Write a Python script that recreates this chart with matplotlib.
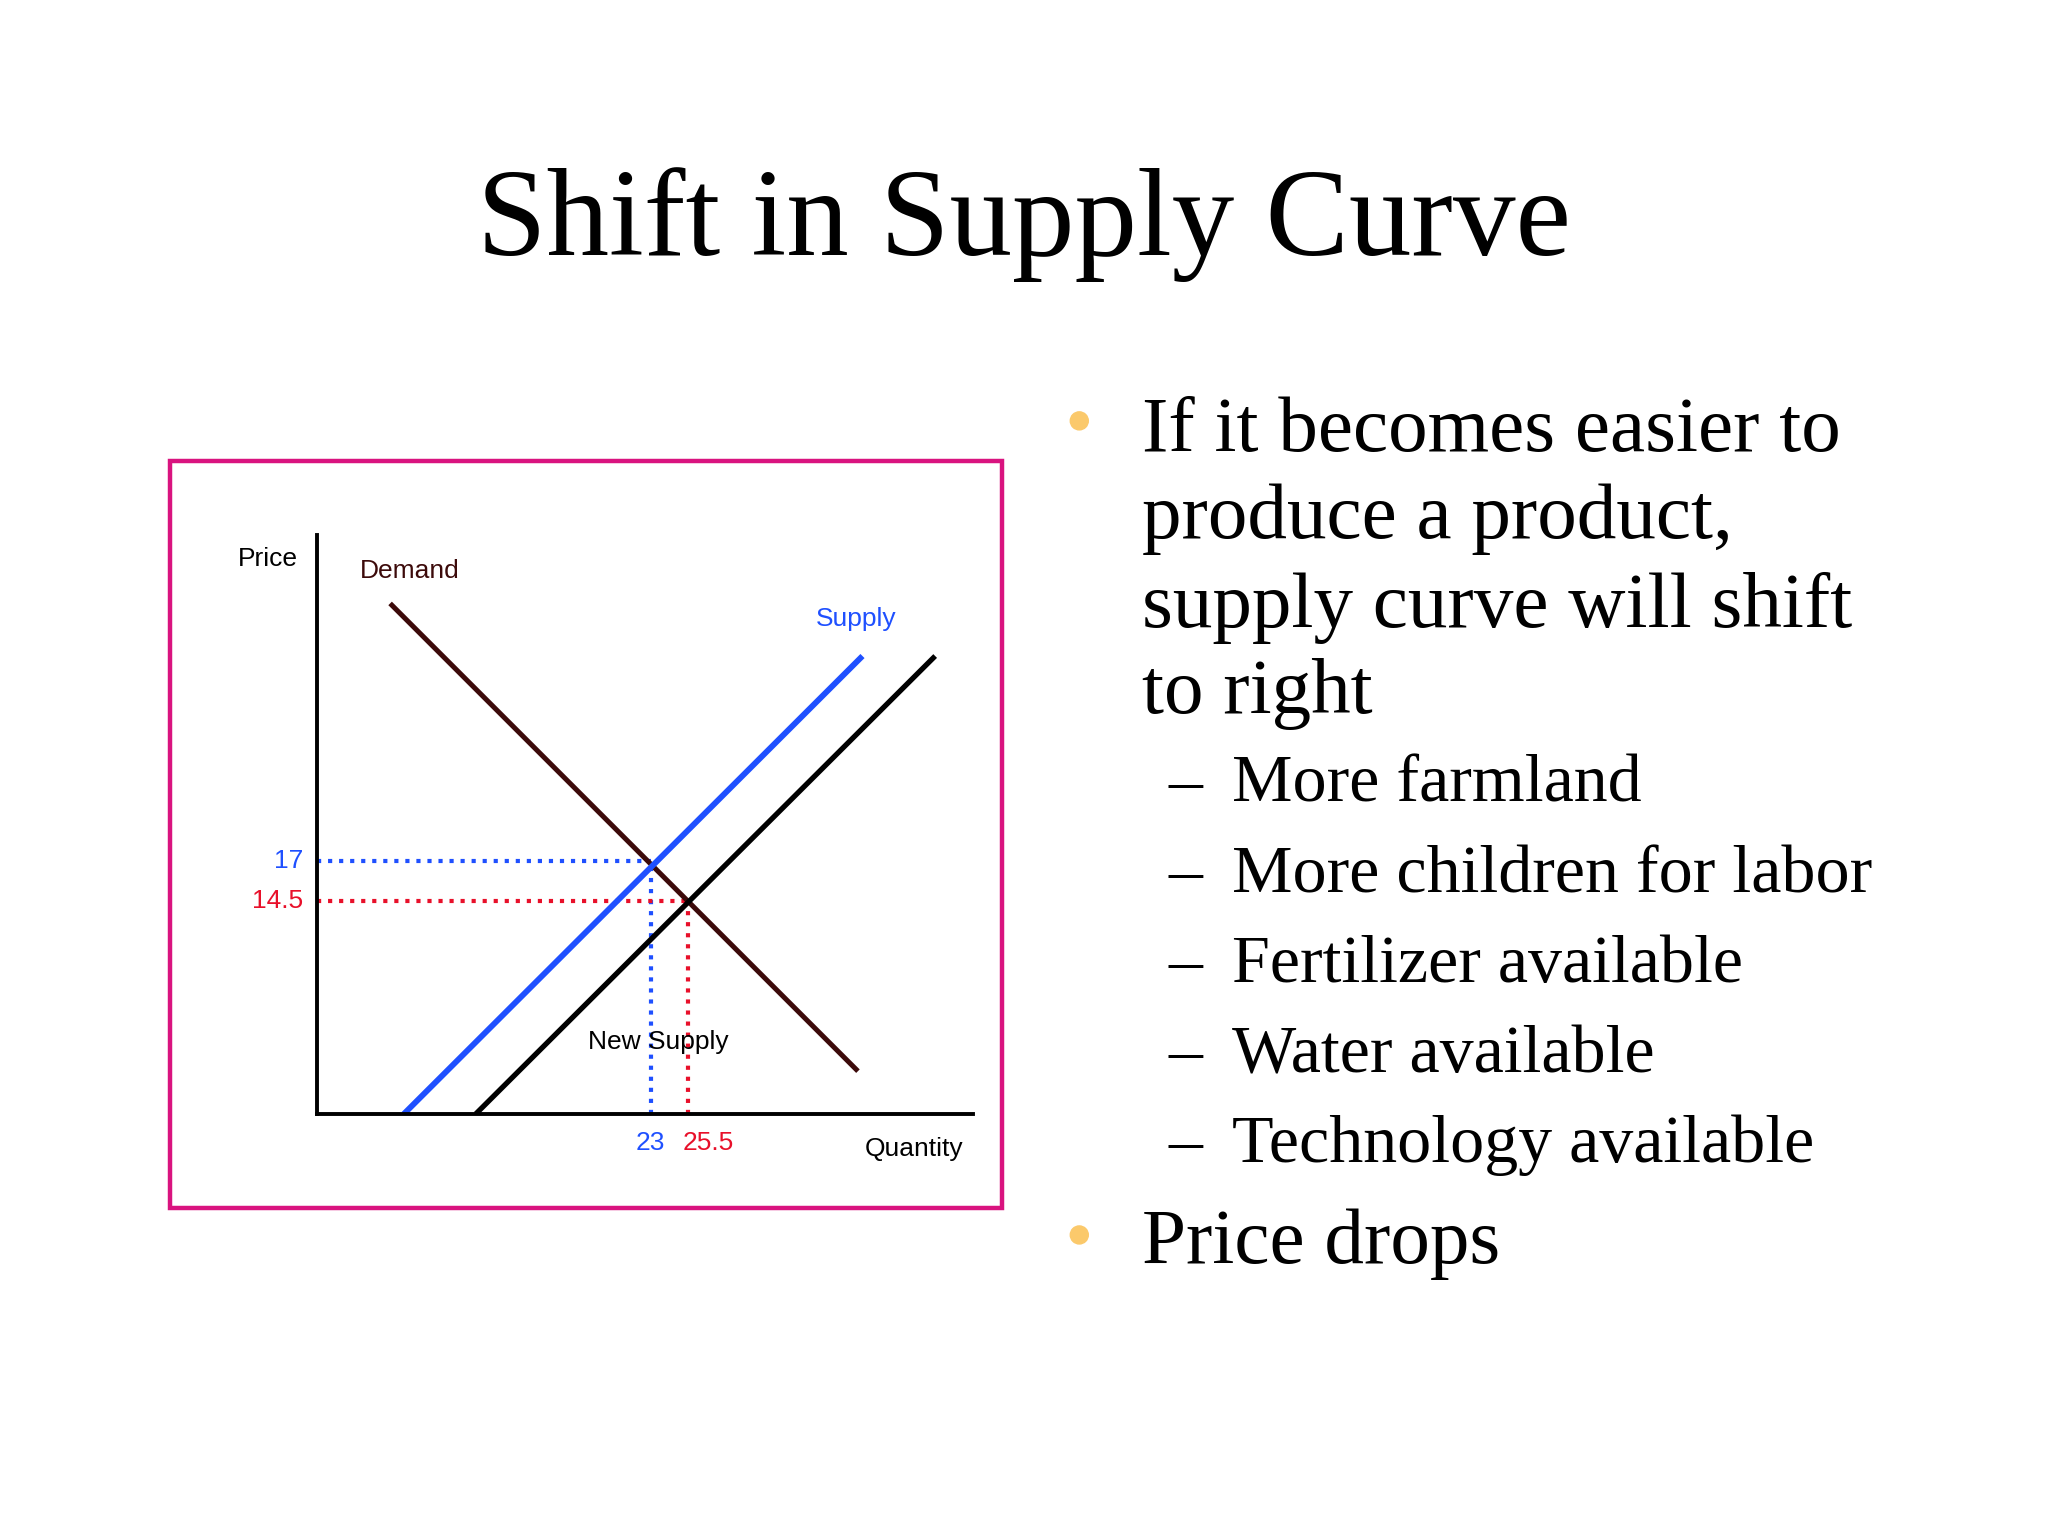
import matplotlib
matplotlib.use("Agg")
import matplotlib.pyplot as plt
from matplotlib.patches import Rectangle, Ellipse
from matplotlib.transforms import blended_transform_factory

# Slide text
title = "Shift in Supply Curve"
main_bullet = ["If it becomes easier to", "produce a product,",
               "supply curve will shift", "to right"]
sub_bullets = ["More farmland", "More children for labor", "Fertilizer available",
               "Water available", "Technology available"]
last_bullet = "Price drops"

# Diagram data (quantity, price)
demand_q = [5.8, 36.7]
demand_p = [32.9, 4.0]
supply_q = [6.7, 37.0]
supply_p = [1.35, 29.65]
new_supply_q = [11.45, 41.8]
new_supply_p = [1.35, 29.65]
old_eq = (23, 17)
new_eq = (25.5, 14.5)
q_min, q_max = 1.0, 44.3
p_min, p_max = 1.35, 37.1

# Colours
maroon = "#3c0a0a"
blue = "#1f50ff"
red = "#e8102a"
magenta = "#d9137f"
orange = "#fbc96b"

serif = ["Liberation Serif", "DejaVu Serif"]
sans = ["Liberation Sans", "DejaVu Sans"]

fig = plt.figure(figsize=(20.48, 15.36), dpi=100)
fig.patch.set_facecolor("white")

fig.text(0.5, 0.834, title, ha="center", va="baseline", fontsize=90, family=serif)

# Frame round the diagram
fig.patches.append(Rectangle((0.0829, 0.2134), 0.4892 - 0.0829, 0.6998 - 0.2134,
                             transform=fig.transFigure, fill=False,
                             edgecolor=magenta, linewidth=3.2))

ax = fig.add_axes([0.155, 0.2747, 0.4751 - 0.155, 0.6514 - 0.2747])
ax.set_xlim(q_min, q_max)
ax.set_ylim(p_min, p_max)
for s in ["top", "right"]:
    ax.spines[s].set_visible(False)
for s in ["left", "bottom"]:
    ax.spines[s].set_linewidth(2.8)
    ax.spines[s].set_color("black")
ax.set_xticks([])
ax.set_yticks([])
ax.patch.set_alpha(0)

# equilibrium guides
ax.plot([q_min, old_eq[0]], [old_eq[1], old_eq[1]], ":", color=blue, lw=3.0)
ax.plot([old_eq[0], old_eq[0]], [p_min, old_eq[1]], ":", color=blue, lw=3.0)
ax.plot([q_min, new_eq[0]], [new_eq[1], new_eq[1]], ":", color=red, lw=3.0)
ax.plot([new_eq[0], new_eq[0]], [p_min, new_eq[1]], ":", color=red, lw=3.0)

ax.plot(demand_q, demand_p, color=maroon, lw=3.6, solid_capstyle="butt")
ax.plot(supply_q, supply_p, color=blue, lw=4.2, solid_capstyle="butt")
ax.plot(new_supply_q, new_supply_p, color="black", lw=3.8, solid_capstyle="butt")

lab = dict(fontsize=19, family=sans)
ax.text(-0.075, 0.959, "Price", transform=ax.transAxes, ha="center", va="center", **lab)
ax.text(0.91, -0.061, "Quantity", transform=ax.transAxes, ha="center", va="center", **lab)
ax.text(0.141, 0.939, "Demand", transform=ax.transAxes, ha="center", va="center",
        color=maroon, **lab)
ax.text(0.822, 0.855, "Supply", transform=ax.transAxes, ha="center", va="center",
        color=blue, **lab)
ax.text(0.52, 0.125, "New Supply", transform=ax.transAxes, ha="center", va="center", **lab)

ty = blended_transform_factory(ax.transAxes, ax.transData)
ax.text(-0.022, old_eq[1], "17", transform=ty, ha="right", va="center", color=blue, **lab)
ax.text(-0.022, new_eq[1], "14.5", transform=ty, ha="right", va="center", color=red, **lab)
tx = blended_transform_factory(ax.transData, ax.transAxes)
ax.text(old_eq[0], -0.05, "23", transform=tx, ha="center", va="center", color=blue, **lab)
ax.text(new_eq[0] - 0.4, -0.05, "25.5", transform=tx, ha="left", va="center", color=red, **lab)

# Bullets on the right
bx, tx0 = 0.527, 0.5574
dot_w = 0.0088
dot_h = dot_w * 2048 / 1536
main_base = [0.7066, 0.6497, 0.5918, 0.5357]
for y, line in zip(main_base, main_bullet):
    fig.text(tx0, y, line, ha="left", va="baseline", fontsize=57, family=serif)
fig.patches.append(Ellipse((bx, 0.726), dot_w, dot_h, transform=fig.transFigure,
                           color=orange))

sub_base = [0.4779, 0.4192, 0.3605, 0.3019, 0.2432]
for y, line in zip(sub_base, sub_bullets):
    fig.text(0.5708, y, "\u2013", ha="left", va="baseline", fontsize=49, family=serif)
    fig.text(0.6014, y, line, ha="left", va="baseline", fontsize=49, family=serif)

fig.text(tx0, 0.1777, last_bullet, ha="left", va="baseline", fontsize=57, family=serif)
fig.patches.append(Ellipse((bx, 0.196), dot_w, dot_h, transform=fig.transFigure,
                           color=orange))

fig.savefig("out.png", dpi=100, facecolor="white")
